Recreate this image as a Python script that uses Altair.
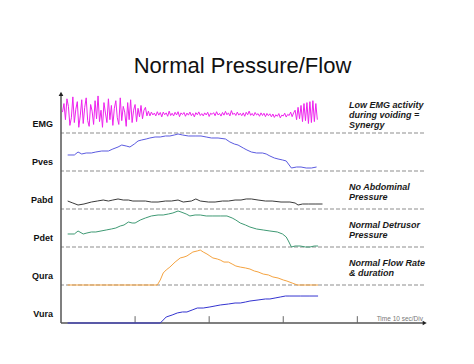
import altair as alt
import pandas as pd
import numpy as np

# ---------------- data ----------------
channels = ["Vura", "Qura", "Pdet", "Pabd", "Pves", "EMG"]          # bottom -> top bands
full_scale = [500, 25, 80, 80, 80, 200]                            # ml, ml/s, cmH2O, ..., uV
zero_offset = [0, 0, 0, 0, 0, 0.5]                                 # EMG centred in its band
colors = ["#3434d0", "#f5a340", "#3f9a74", "#3a3a3a", "#5b5be0", "#ee22ee"]

pves_t = [0.9, 1.8, 2.3, 2.8, 3.4, 4.1, 4.7, 5.5, 6.4, 7.0, 7.7, 8.2, 8.8, 9.3, 9.9, 10.4, 10.9, 11.5,
          12.0, 12.7, 13.4, 14.1, 14.7, 15.3, 15.8, 16.4, 17.2, 18.1, 18.9, 19.6, 20.3, 21.2, 22.2,
          22.8, 23.4, 23.9, 24.6, 25.1, 25.7, 26.4, 27.2, 27.7, 28.2, 28.8, 29.3, 29.9, 30.4, 30.8,
          31.1, 31.8, 32.4, 33.1, 33.8, 34.5]
pves_v = [33.7, 33.7, 40.0, 35.8, 37.9, 37.9, 40.0, 42.1, 42.1, 46.3, 50.5, 54.7, 52.6, 50.5, 56.8,
          63.2, 65.3, 67.4, 69.5, 71.6, 71.6, 73.7, 73.7, 75.8, 77.9, 75.8, 73.7, 73.7, 73.7, 71.6,
          69.5, 69.5, 67.4, 61.1, 56.8, 54.7, 48.4, 44.2, 40.0, 37.9, 37.9, 35.8, 31.6, 27.4, 25.3,
          23.2, 21.1, 12.6, 6.3, 8.4, 8.4, 6.3, 6.3, 8.4]

pabd_t = [0.9, 1.6, 2.3, 3.1, 4.1, 4.9, 5.7, 6.4, 7.0, 7.7, 8.4, 9.1, 9.7, 10.4, 11.4, 12.2, 13.1,
          14.1, 14.9, 15.8, 16.5, 17.6, 18.2, 18.8, 19.9, 20.8, 21.8, 22.6, 23.5, 24.3, 25.0, 25.7,
          26.6, 27.6, 28.5, 29.7, 30.9, 31.6, 32.0, 32.6, 33.4, 34.3, 35.3]
pabd_v = [16.8, 12.6, 8.4, 10.5, 14.7, 16.8, 18.9, 16.8, 18.9, 21.1, 18.9, 18.9, 16.8, 16.8, 16.8,
          14.7, 14.7, 16.8, 16.8, 18.9, 14.7, 16.8, 21.1, 16.8, 14.7, 14.7, 16.8, 16.8, 18.9, 18.9,
          21.1, 21.1, 18.9, 16.8, 16.8, 14.7, 14.7, 12.6, 8.4, 10.5, 10.5, 10.5, 10.5]

pdet_t = [0.9, 1.8, 2.3, 3.0, 3.5, 4.1, 4.7, 5.4, 6.1, 6.8, 7.4, 8.0, 8.5, 9.1, 9.6, 10.0, 10.7,
          11.4, 12.2, 13.1, 13.8, 14.5, 15.1, 15.8, 16.2, 16.9, 17.4, 18.1, 18.8, 19.6, 20.4, 21.5,
          22.4, 23.1, 23.6, 24.2, 24.9, 25.5, 26.4, 27.3, 28.2, 29.2, 29.9, 30.4, 30.7, 31.1, 31.6,
          32.3, 33.0, 33.6, 34.2, 34.7]
pdet_v = [27.4, 27.4, 33.7, 27.4, 29.5, 31.6, 31.6, 33.7, 35.8, 37.9, 40.0, 44.2, 46.3, 52.6, 50.5,
          50.5, 56.8, 61.1, 65.3, 67.4, 67.4, 69.5, 71.6, 75.8, 73.7, 69.5, 65.3, 67.4, 67.4, 65.3,
          65.3, 65.3, 65.3, 61.1, 56.8, 50.5, 46.3, 42.1, 37.9, 35.8, 33.7, 31.6, 27.4, 21.1, 12.6,
          0.0, 2.1, 2.1, 0.0, 0.0, 2.1, 2.1]

qura_t = [0.9, 13.0, 13.4, 13.8, 14.2, 14.7, 15.4, 16.1, 16.6, 17.0, 17.4, 17.8, 18.4, 18.8, 19.2,
          19.7, 20.1, 20.5, 21.1, 21.5, 22.0, 22.6, 23.1, 23.6, 24.2, 24.9, 25.5, 26.1, 26.6, 27.3,
          28.0, 28.6, 29.3, 30.0, 30.5, 31.2, 31.9, 33.0, 34.7]
qura_v = [0, 0, 3.3, 7.9, 9.9, 11.8, 15.1, 17.8, 18.4, 19.1, 20.4, 21.7, 22.4, 23.0, 21.7, 20.4,
          19.1, 17.8, 17.1, 16.4, 15.1, 15.1, 13.8, 12.5, 11.8, 11.2, 10.5, 9.2, 8.6, 7.2, 6.6, 5.3,
          4.6, 3.3, 2.6, 1.3, 0, 0, 0]

vura_t = [0.9, 13.4, 13.8, 14.2, 15.0, 15.7, 16.4, 17.0, 17.7, 18.4, 19.2, 20.1, 20.8, 21.5, 22.6,
          23.5, 24.2, 24.9, 25.5, 26.6, 27.6, 28.2, 28.9, 29.6, 30.3, 30.9, 32.3, 33.6, 34.7]
vura_v = [0, 0, 39, 79, 105, 132, 145, 145, 171, 197, 197, 211, 224, 237, 250, 263, 263, 276, 289,
          303, 316, 316, 329, 342, 355, 355, 355, 355, 355]

emg_v = [10, 55, -30, 80, 40, -60, -20, 90, -45, 25, 65, -70, -10, 75, -50, 35, 85, -35, -65, 50,
         15, -55, 70, -25, 95, -40, 20, -70, 60, 5, -45, 80, -30, 45, -60, 30, 70, -20, -55, 85,
         -35, 40, 10, -65, 60, -30, 75, -45, 20, 50, -40, 30, -15, 45, -25, 20, 35, -10,
         15, -10, 10, -5,
         5, -10, 12, -6, 8, -15, 10, -4, 6, -12, 15, -8, 4, -10, 9, -5, 12, -14, 6, -3,
         8, -12, 5, -6, 10, -9, 3, -15, 7, -4, 11, -8, 2, -10, 6, -5, 9, -13, 4, -2,
         7, -9, 12, -5, 3, -11, 8, -6, 14, -4, 6, -10, 18, -3, 5, -8, 10, -6, 4, -9,
         6, -12, 9, -4, 15, -7, 3, -10, 8, -5, 2, -12, 6, -8, 4, -14, 3, -9, 1, -15,
         0, -18, -4, -12, 2, -20, -6, -10, 4, -16, -2, -8, 10, -14, 6,
         20, -30, 35, -25, 45, -40, 55, -35, 60, -50, 65, -45, 70, -40, 55, -30]
emg_step = 0.2
emg_t = [round(emg_step * (i + 1), 1) for i in range(len(emg_v))]

annotations = ["Normal Flow Rate\n& duration", "Normal Detrusor\nPressure",
               "No Abdominal\nPressure", "Low EMG activity\nduring voiding =\nSynergy"]
annotation_band = ["Qura", "Pdet", "Pabd", "EMG"]
tick_times = [10, 20, 30, 40]
title_text = "Normal Pressure/Flow"
time_note = "Time 10 sec/Div"

series = {"Vura": (vura_t, vura_v), "Qura": (qura_t, qura_v), "Pdet": (pdet_t, pdet_v),
          "Pabd": (pabd_t, pabd_v), "Pves": (pves_t, pves_v), "EMG": (emg_t, emg_v)}

rows = []
for i, ch in enumerate(channels):
    ts, vs = series[ch]
    for t, v in zip(ts, vs):
        rows.append({"ch": ch, "t": t, "y": i + zero_offset[i] + v / full_scale[i]})
df = pd.DataFrame(rows)

# ---------------- chart ----------------
FONT = "Liberation Sans"
XS = alt.Scale(domain=[0, 49], nice=False, zero=False)
YS = alt.Scale(domain=[0, 6], nice=False, zero=False)


def X(f):
    return alt.X(f, scale=XS, axis=None)


def Y(f):
    return alt.Y(f, scale=YS, axis=None)


lines = alt.Chart(df).mark_line(strokeWidth=1).encode(
    x=X("t:Q"), y=Y("y:Q"),
    color=alt.Color("ch:N", scale=alt.Scale(domain=channels, range=colors), legend=None),
    detail="ch:N",
)

sep = alt.Chart(pd.DataFrame({"y": [1, 2, 3, 4, 5]})).mark_rule(
    color="#b4b4b4", strokeWidth=1.5, strokeDash=[4, 2]
).encode(y=Y("y:Q"))

yaxis = alt.Chart(pd.DataFrame({"t": [0], "y0": [0], "y1": [6]})).mark_rule(
    color="#555", strokeWidth=1.5).encode(x=X("t:Q"), y=Y("y0:Q"), y2="y1:Q")
xaxis = alt.Chart(pd.DataFrame({"t0": [0], "t1": [49], "y": [0]})).mark_rule(
    color="#555", strokeWidth=1.5).encode(x=X("t0:Q"), x2="t1:Q", y=Y("y:Q"))
ticks = alt.Chart(pd.DataFrame({"t": tick_times, "y0": [0] * 4, "y1": [0.18] * 4})).mark_rule(
    color="#666", strokeWidth=1).encode(x=X("t:Q"), y=Y("y0:Q"), y2="y1:Q")
arrow_up = alt.Chart(pd.DataFrame({"t": [0], "y": [6.03]})).mark_point(
    shape="triangle-up", filled=True, size=22, color="#222", opacity=1).encode(x=X("t:Q"), y=Y("y:Q"))
arrow_right = alt.Chart(pd.DataFrame({"t": [49.1], "y": [0]})).mark_point(
    shape="triangle-right", filled=True, size=22, color="#222", opacity=1).encode(x=X("t:Q"), y=Y("y:Q"))

lab_df = pd.DataFrame({"ch": channels, "ly": [i + 0.25 for i in range(len(channels))]})
labels = alt.Chart(lab_df).mark_text(
    align="right", baseline="middle", font=FONT, fontSize=9, fontWeight="bold", color="#111", dx=-8
).encode(x=alt.value(0), y=Y("ly:Q"), text="ch:N")

ann_df = pd.DataFrame({"txt": annotations,
                       "ay": [channels.index(b) + 0.46 + (a.count("\n")) * 0.132
                              for a, b in zip(annotations, annotation_band)]})
ann = alt.Chart(ann_df).mark_text(
    align="left", baseline="middle", font=FONT, fontSize=9, fontWeight="bold",
    fontStyle="italic", lineBreak="\n", lineHeight=10, color="#1a1a1a"
).encode(x=alt.value(288), y=Y("ay:Q"), text="txt:N")

note = alt.Chart(pd.DataFrame({"txt": [time_note], "y": [0.1]})).mark_text(
    align="right", baseline="middle", font=FONT, fontSize=6.5, color="#777"
).encode(x=alt.value(362), y=Y("y:Q"), text="txt:N")

chart = alt.layer(sep, yaxis, xaxis, ticks, lines, arrow_up, arrow_right,
                  labels, ann, note).properties(
    width=363, height=228,
    title=alt.TitleParams(title_text, font=FONT, fontSize=22, fontWeight="normal",
                          color="#111", anchor="middle", offset=14),
    autosize=alt.AutoSizeParams(type="none"),
    padding={"left": 53, "top": 87, "right": 30, "bottom": 20},
).configure_view(stroke=None)

chart.save("out.html", embed_options={"renderer": "svg", "actions": False})
